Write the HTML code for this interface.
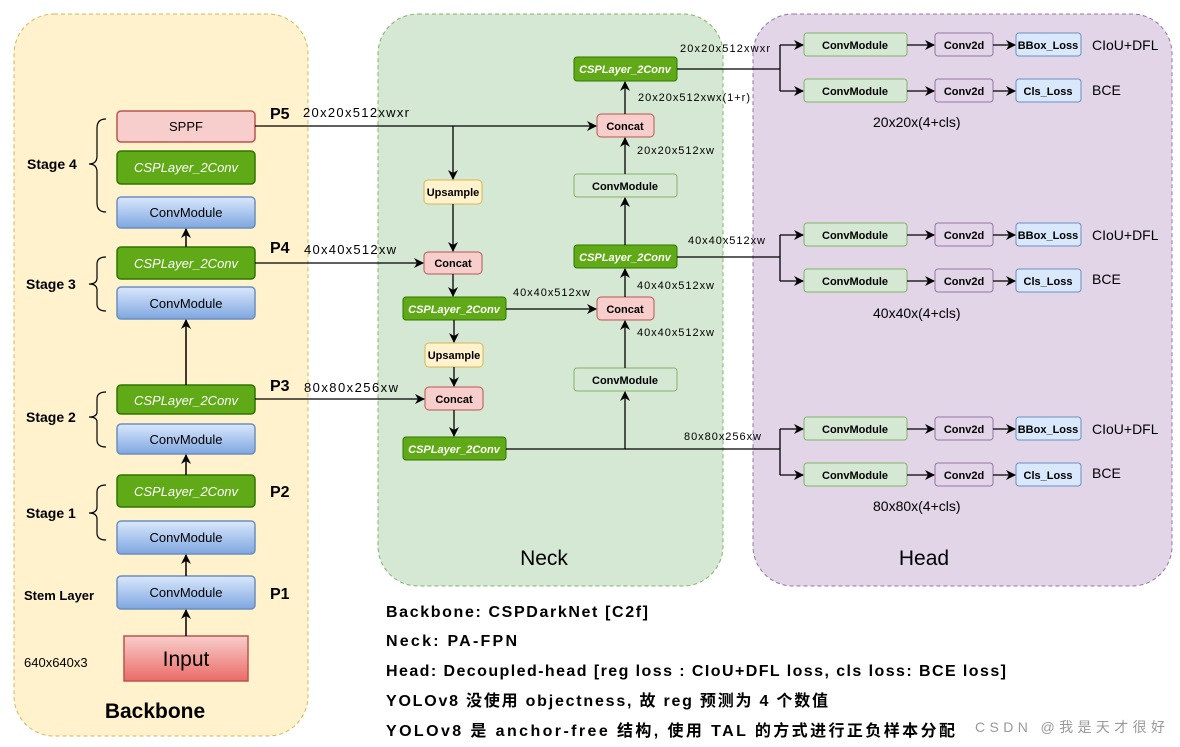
<!DOCTYPE html>
<html><head><meta charset="utf-8"><style>
html,body{margin:0;padding:0;background:#fff;}
svg{display:block;}
text{font-family:"Liberation Sans","Noto Sans CJK SC",sans-serif;}
</style></head><body>
<svg width="1180" height="747" viewBox="0 0 1180 747" xmlns="http://www.w3.org/2000/svg">
<defs>
<linearGradient id="gb" x1="0" y1="0" x2="0" y2="1"><stop offset="0" stop-color="#dae8fc"/><stop offset="1" stop-color="#7ea6e0"/></linearGradient>
<linearGradient id="gr" x1="0" y1="0" x2="0" y2="1"><stop offset="0" stop-color="#f8cecc"/><stop offset="1" stop-color="#ea6b66"/></linearGradient>
<marker id="a" markerWidth="10" markerHeight="10" refX="9" refY="5" orient="auto" markerUnits="userSpaceOnUse"><path d="M0,0 L10,5 L0,10 L3,5 z" fill="#000"/></marker>
</defs>
<rect x="14" y="14" width="294" height="722" rx="40" fill="#fff2cc" stroke="#d6b656" stroke-dasharray="4,3"/>
<rect x="378" y="14" width="345" height="572" rx="40" fill="#d5e8d4" stroke="#82b366" stroke-dasharray="4,3"/>
<rect x="753" y="14" width="419" height="572" rx="40" fill="#e1d5e7" stroke="#9673a6" stroke-dasharray="4,3"/>

<g font-size="13" text-anchor="middle">
<rect x="117" y="111" width="138" height="31" rx="4" fill="#f8cecc" stroke="#b85450" stroke-width="1.5"/><text x="186" y="131">SPPF</text>
<rect x="117" y="151" width="138" height="33" rx="4" fill="#60a917" stroke="#2d7600" stroke-width="1.5"/><text x="186" y="172" fill="#fff" font-style="italic">CSPLayer_2Conv</text>
<rect x="117" y="197" width="138" height="31" rx="4" fill="url(#gb)" stroke="#6c8ebf" stroke-width="1.5"/><text x="186" y="217">ConvModule</text>
<rect x="117" y="247" width="138" height="32" rx="4" fill="#60a917" stroke="#2d7600" stroke-width="1.5"/><text x="186" y="268" fill="#fff" font-style="italic">CSPLayer_2Conv</text>
<rect x="117" y="287" width="138" height="32" rx="4" fill="url(#gb)" stroke="#6c8ebf" stroke-width="1.5"/><text x="186" y="308">ConvModule</text>
<rect x="117" y="385" width="138" height="29" rx="4" fill="#60a917" stroke="#2d7600" stroke-width="1.5"/><text x="186" y="405" fill="#fff" font-style="italic">CSPLayer_2Conv</text>
<rect x="117" y="424" width="138" height="30" rx="4" fill="url(#gb)" stroke="#6c8ebf" stroke-width="1.5"/><text x="186" y="444">ConvModule</text>
<rect x="117" y="475" width="138" height="32" rx="4" fill="#60a917" stroke="#2d7600" stroke-width="1.5"/><text x="186" y="496" fill="#fff" font-style="italic">CSPLayer_2Conv</text>
<rect x="117" y="521" width="138" height="33" rx="4" fill="url(#gb)" stroke="#6c8ebf" stroke-width="1.5"/><text x="186" y="542">ConvModule</text>
<rect x="117" y="576" width="138" height="33" rx="4" fill="url(#gb)" stroke="#6c8ebf" stroke-width="1.5"/><text x="186" y="597">ConvModule</text>
<rect x="124" y="636" width="124" height="45" fill="url(#gr)" stroke="#b85450" stroke-width="1.5"/><text x="186" y="666" font-size="21">Input</text>
</g>
<g stroke="#000" stroke-width="1.5" fill="none" marker-end="url(#a)">
<line x1="186" y1="636" x2="186" y2="610"/>
<line x1="186" y1="576" x2="186" y2="555"/>
<line x1="186" y1="475" x2="186" y2="455"/>
<line x1="186" y1="385" x2="186" y2="320"/>
<line x1="186" y1="247" x2="186" y2="229"/>
</g>
<g stroke="#000" stroke-width="1.2" fill="none">
<path d="M106,119 Q97,119 97,128 L97,156 Q97,164 89,164 Q97,164 97,172 L97,203 Q97,212 106,212"/>
<path d="M106,257 Q97,257 97,264 L97,278 Q97,284 89,284 Q97,284 97,290 L97,304 Q97,311 106,311"/>
<path d="M106,392 Q97,392 97,399 L97,412 Q97,417 89,417 Q97,417 97,422 L97,440 Q97,447 106,447"/>
<path d="M106,485 Q97,485 97,492 L97,507 Q97,513 89,513 Q97,513 97,519 L97,533 Q97,540 106,540"/>
</g>
<g font-size="14" font-weight="bold">
<text x="27" y="169">Stage 4</text>
<text x="26" y="289">Stage 3</text>
<text x="26" y="422">Stage 2</text>
<text x="26" y="518">Stage 1</text>
<text x="24" y="600" font-size="13">Stem Layer</text>
<text x="24" y="667" font-size="13" font-weight="normal">640x640x3</text>
<text x="270" y="119" font-size="16">P5</text>
<text x="270" y="253" font-size="16">P4</text>
<text x="270" y="391" font-size="16">P3</text>
<text x="270" y="497" font-size="16">P2</text>
<text x="270" y="599" font-size="16">P1</text>
</g>
<g font-size="13">
<text x="303" y="117" textLength="106">20x20x512xwxr</text>
<text x="304" y="254" textLength="92">40x40x512xw</text>
<text x="304" y="392" textLength="94">80x80x256xw</text>
</g>
<text x="155" y="718" font-size="21" font-weight="bold" text-anchor="middle">Backbone</text>
<text x="544" y="565" font-size="21" text-anchor="middle">Neck</text>
<text x="924" y="565" font-size="21" text-anchor="middle">Head</text>

<g font-size="11" font-weight="bold" text-anchor="middle">
<rect x="424" y="180" width="58" height="24" rx="4" fill="#fff2cc" stroke="#d6b656"/><text x="453" y="196">Upsample</text>
<rect x="424" y="252" width="58" height="22" rx="4" fill="#f8cecc" stroke="#b85450"/><text x="453" y="267">Concat</text>
<rect x="403" y="297" width="103" height="23" rx="3" fill="#60a917" stroke="#2d7600"/><text x="454" y="313" fill="#fff" font-style="italic">CSPLayer_2Conv</text>
<rect x="425" y="343" width="58" height="24" rx="4" fill="#fff2cc" stroke="#d6b656"/><text x="454" y="359">Upsample</text>
<rect x="425" y="387" width="58" height="23" rx="4" fill="#f8cecc" stroke="#b85450"/><text x="454" y="403">Concat</text>
<rect x="403" y="437" width="103" height="23" rx="3" fill="#60a917" stroke="#2d7600"/><text x="454" y="453" fill="#fff" font-style="italic">CSPLayer_2Conv</text>
<rect x="574" y="57" width="103" height="24" rx="3" fill="#60a917" stroke="#2d7600"/><text x="625" y="73" fill="#fff" font-style="italic">CSPLayer_2Conv</text>
<rect x="597" y="114" width="57" height="23" rx="4" fill="#f8cecc" stroke="#b85450"/><text x="625" y="130">Concat</text>
<rect x="574" y="174" width="103" height="23" rx="3" fill="none" stroke="#82b366"/><text x="625" y="190">ConvModule</text>
<rect x="574" y="245" width="103" height="23" rx="3" fill="#60a917" stroke="#2d7600"/><text x="625" y="261" fill="#fff" font-style="italic">CSPLayer_2Conv</text>
<rect x="597" y="297" width="57" height="23" rx="4" fill="#f8cecc" stroke="#b85450"/><text x="625" y="313">Concat</text>
<rect x="574" y="368" width="103" height="23" rx="3" fill="none" stroke="#82b366"/><text x="625" y="384">ConvModule</text>
</g>
<g stroke="#000" stroke-width="1.3" fill="none" marker-end="url(#a)">
<line x1="255" y1="126" x2="596" y2="126"/>
<line x1="453" y1="126" x2="453" y2="179"/>
<line x1="453" y1="204" x2="453" y2="251"/>
<line x1="255" y1="263" x2="423" y2="263"/>
<line x1="453" y1="274" x2="453" y2="296"/>
<line x1="454" y1="320" x2="454" y2="342"/>
<line x1="454" y1="367" x2="454" y2="386"/>
<line x1="255" y1="399" x2="424" y2="399"/>
<line x1="454" y1="410" x2="454" y2="436"/>
<line x1="506" y1="309" x2="596" y2="309"/>
<line x1="625" y1="449" x2="625" y2="392"/>
<line x1="625" y1="368" x2="625" y2="321"/>
<line x1="625" y1="297" x2="625" y2="269"/>
<line x1="625" y1="245" x2="625" y2="198"/>
<line x1="625" y1="174" x2="625" y2="138"/>
<line x1="625" y1="114" x2="625" y2="82"/>
</g>
<line x1="506" y1="449" x2="780" y2="449" stroke="#000" stroke-width="1.3"/>
<g font-size="11">
<text x="680" y="52" textLength="90">20x20x512xwxr</text>
<text x="638" y="101" textLength="112">20x20x512xwx(1+r)</text>
<text x="637" y="154" textLength="77">20x20x512xw</text>
<text x="688" y="244" textLength="77">40x40x512xw</text>
<text x="513" y="296" textLength="77">40x40x512xw</text>
<text x="637" y="289" textLength="77">40x40x512xw</text>
<text x="637" y="336" textLength="77">40x40x512xw</text>
<text x="684" y="440" textLength="77">80x80x256xw</text>
</g>

<g stroke="#000" stroke-width="1.3" fill="none">
<line x1="677" y1="69" x2="780" y2="69"/><line x1="780" y1="45" x2="780" y2="91"/>
<line x1="677" y1="257" x2="780" y2="257"/><line x1="780" y1="235" x2="780" y2="281"/>
<line x1="780" y1="429" x2="780" y2="475"/>
</g>
<g font-size="11" font-weight="bold" text-anchor="middle">
<g id="r1">
<rect x="804" y="33" width="103" height="23" rx="3" fill="#d5e8d4" stroke="#82b366"/><text x="855" y="49">ConvModule</text>
<rect x="935" y="33" width="58" height="23" rx="3" fill="#e1d5e7" stroke="#9673a6"/><text x="964" y="49">Conv2d</text>
<rect x="1016" y="33" width="65" height="23" rx="3" fill="#dae8fc" stroke="#6c8ebf"/><text x="1048" y="49">BBox_Loss</text>
</g>
<g id="r2">
<rect x="804" y="79" width="103" height="23" rx="3" fill="#d5e8d4" stroke="#82b366"/><text x="855" y="95">ConvModule</text>
<rect x="935" y="79" width="58" height="23" rx="3" fill="#e1d5e7" stroke="#9673a6"/><text x="964" y="95">Conv2d</text>
<rect x="1016" y="79" width="65" height="23" rx="3" fill="#dae8fc" stroke="#6c8ebf"/><text x="1048" y="95">Cls_Loss</text>
</g>
<use href="#r1" y="190"/><use href="#r1" y="384"/>
<use href="#r2" y="190"/><use href="#r2" y="384"/>
</g>
<g stroke="#000" stroke-width="1.3" fill="none" marker-end="url(#a)">
<g id="ar">
<line x1="780" y1="45" x2="803" y2="45"/><line x1="780" y1="91" x2="803" y2="91"/>
<line x1="907" y1="45" x2="934" y2="45"/><line x1="907" y1="91" x2="934" y2="91"/>
<line x1="993" y1="45" x2="1015" y2="45"/><line x1="993" y1="91" x2="1015" y2="91"/>
</g>
<use href="#ar" y="190"/><use href="#ar" y="384"/>
</g>
<g font-size="14">
<text x="1092" y="50">CIoU+DFL</text><text x="1092" y="95">BCE</text>
<text x="1092" y="240">CIoU+DFL</text><text x="1092" y="284">BCE</text>
<text x="1092" y="434">CIoU+DFL</text><text x="1092" y="478">BCE</text>
<text x="873" y="127">20x20x(4+cls)</text>
<text x="873" y="318">40x40x(4+cls)</text>
<text x="873" y="511">80x80x(4+cls)</text>
</g>

<g font-size="16" font-weight="bold">
<text x="386" y="617" textLength="262">Backbone: CSPDarkNet [C2f]</text>
<text x="386" y="646" textLength="131">Neck: PA-FPN</text>
<text x="386" y="676" textLength="620">Head: Decoupled-head [reg loss : CIoU+DFL loss, cls loss: BCE loss]</text>
<text x="386" y="706" textLength="442">YOLOv8 没使用 objectness, 故 reg 预测为 4 个数值</text>
<text x="386" y="736" textLength="569">YOLOv8 是 anchor-free 结构, 使用 TAL 的方式进行正负样本分配</text>
</g>
<text x="975" y="732" font-size="14" fill="#999" textLength="190">CSDN @我是天才很好</text>
</svg>
</body></html>
